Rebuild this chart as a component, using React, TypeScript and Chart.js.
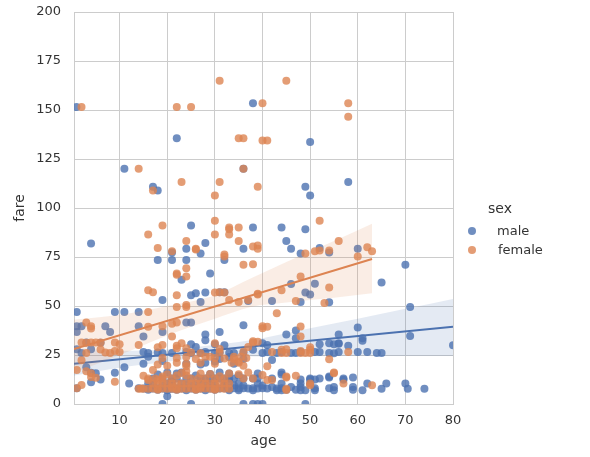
import React, { useEffect, useRef } from "react";
import { Chart, registerables } from "chart.js";

Chart.register(...registerables);

// ---- axes ----
const xTicks = [10, 20, 30, 40, 50, 60, 70, 80];
const yTicks = [0, 25, 50, 75, 100, 125, 150, 175, 200];
const ageMin = 0.42;
const ageMax = 80;
const fareMin = 0;
const fareMax = 200;

// ---- series labels ----
const seriesNames = ["male", "female"];
const legendTitle = "sex";
const xLabel = "age";
const yLabel = "fare";

// ---- male points [age, fare] ----
const maleHigh: [number, number][] = [
  [0.92, 151.55], [38, 153.46], [22, 135.63], [11, 120], [36, 120], [17, 110.88], [18, 108.9],
  [50, 133.65], [49, 110.88], [50, 106.43], [58, 113.28], [49, 89.1], [25, 91.08], [38, 90],
  [44, 90], [4, 81.86], [18, 73.5], [21, 73.5], [21, 77.29], [24, 79.2], [24, 73.5], [23, 63.36],
  [27, 76.73], [28, 82.17], [32, 73.5], [36, 79.2], [45, 83.16], [46, 79.2], [48, 76.73],
  [52, 79.65], [54, 77.29], [60, 79.2], [70, 71], [65, 61.98], [46, 61.18], [51, 61.38],
  [49, 56.93], [50, 55.9], [42, 52.55], [48, 52], [54, 51.86], [71, 49.5], [27, 52], [29, 66.6],
  [19, 53.1], [25, 55.44], [26, 56.5], [28, 56.93], [31, 57], [32, 57], [37, 52.55],
];
const maleMid: [number, number][] = [
  [25, 41.58], [31, 36.75], [28, 35.5], [28, 32.5], [36, 40.13], [15, 34.38], [19, 36.75],
  [15, 26.55], [16, 24.15], [9, 46.9], [11, 46.9], [14, 46.9], [1, 46.9], [1, 39.69], [1, 36.75],
  [2, 39.69], [7, 39.69], [8, 36.75], [14, 39.69], [3, 31.39], [6, 31.27], [4, 27.9], [1, 27.9],
  [2, 26.0], [3, 18.75], [4, 15.9], [5, 15.74], [4, 11.13], [6, 12.48], [9, 15.9], [11, 18.75],
  [12, 10.5], [1, 8.05], [15, 20.5], [19, 22.0], [20, 16.1], [24, 41.58], [45, 35.5], [47, 37.5],
  [47, 33.5], [56, 35.5], [56, 30.7], [60, 39.0], [61, 33.5], [61, 32.3], [71, 34.65], [80, 30],
  [52, 30.5], [55, 30.5], [58, 29.7], [25, 30.5], [26, 29.1], [30, 30.5], [32, 30.0], [38, 27.7],
  [40, 31], [41, 30.07], [54, 31], [56, 31],
];
const maleRow26: [number, number][] = [
  [16, 26], [18, 26.25], [19, 26], [21, 26], [24, 26.55], [25, 26], [27, 26], [28, 26.55],
  [30, 26], [31, 26.25], [33, 26], [34, 26], [36, 26.29], [40, 26], [41, 26.55], [43, 26],
  [46, 26], [47, 26], [52, 26.55], [54, 26], [56, 26.55], [60, 26.55], [62, 26.55], [64, 26],
  [65, 26], [44, 26.55], [48, 26.55], [51, 26.55], [55, 25.9],
];
const maleOlderLow: [number, number][] = [
  [44, 16.1], [44, 15.0], [54, 14], [57, 12.35], [59, 13.5], [48, 12.5], [50, 12.5], [51, 12.5],
  [52, 13], [50, 13], [54, 13.5], [57, 13], [62, 10.5], [66, 10.5], [70, 10.5], [50, 10.5],
  [48, 10.5], [44, 10.5], [44, 7.05], [45, 7.25], [47, 7.25], [48, 7.05], [49, 7.05], [51, 7.05],
  [55, 7.0], [59, 7.25], [61, 6.97], [65, 7.75], [70.5, 7.75], [74, 7.78], [40, 8.05],
  [42, 8.66], [44, 8.05], [46, 8.66], [48, 8.66], [51, 8.05], [54, 8.05], [55, 8.66], [59, 8.66],
];
const maleYoungLow: [number, number][] = [
  [17, 13], [19, 13], [21, 13], [22, 13], [24, 13], [25, 13], [27, 13], [28, 13], [29, 13],
  [30, 13], [31, 13], [32, 13], [33, 13], [34, 13], [36, 13], [38, 13], [39, 13], [42, 13],
  [18, 15], [22, 15.5], [26, 14.5], [29, 15.25], [33, 15.5], [35, 14.4], [39, 15.5], [23, 16.1],
  [31, 16.1], [16, 10.5], [20, 10.5], [23, 10.5], [26, 10.5], [29, 10.5], [32, 10.5], [35, 10.5],
  [39, 10.5], [21, 11.5], [27, 11.1], [33, 11.5], [14, 8.05], [15, 7.9], [16, 8.05], [17, 7.9],
  [18, 8.05], [19, 7.9], [20, 8.05], [21, 7.8], [22, 8.05], [23, 7.9], [24, 8.05], [25, 7.9],
  [26, 8.05], [27, 7.9], [28, 8.05], [29, 7.9], [30, 8.05], [31, 7.9], [32, 8.05], [33, 7.9],
  [34, 8.05], [35, 7.9], [36, 8.05], [37, 7.9], [38, 8.05], [39, 7.9], [41, 7.9], [43, 7.9],
  [16, 7.23], [18, 7.23], [20, 7.05], [22, 7.23], [24, 7.05], [26, 7.23], [28, 7.05], [30, 7.23],
  [33, 7.05], [35, 7.05], [38, 7.05], [43, 7.05], [17, 9.5], [19, 9.22], [21, 9.5], [24, 9.5],
  [25, 9.22], [28, 9.5], [30, 9.5], [32, 9.35], [34, 9.5], [36, 9.5], [40, 9.5],
  [19, 0], [25, 0], [36, 0], [38, 0], [39, 0], [40, 0], [49, 0], [20, 4],
  [28, 21], [30, 21.7], [24, 20.5], [27, 20.2], [34, 20.5], [36, 23], [42, 22.5], [31, 23], [33, 24],
];

// ---- female points [age, fare] ----
const femaleHigh: [number, number][] = [
  [2, 151.55], [22, 151.55], [25, 151.55], [31, 164.87], [45, 164.87], [40, 153.46], [58, 153.46],
  [58, 146.52], [35, 135.63], [36, 135.63], [40, 134.5], [41, 134.5], [14, 120], [36, 120],
  [17, 108.9], [23, 113.28], [31, 113.28], [30, 106.43], [39, 110.88], [19, 91.08], [30, 93.5],
  [33, 90], [35, 90], [52, 93.5], [33, 89.1], [16, 86.5], [18, 79.65], [21, 77.96], [24, 83.16],
  [26, 78.85], [26, 79.2], [30, 86.5], [32, 76.29], [33, 86.5], [35, 83.16], [36, 71], [38, 71.28],
  [39, 80.93], [39, 79.2], [38, 80.3], [22, 66.6], [24, 69.3], [24, 65], [22, 66], [49, 76.73],
  [51, 77.96], [52, 78.27], [54, 78.27], [56, 83.16], [60, 75.25], [62, 80], [63, 77.96],
  [48, 65], [44, 57.98], [54, 59.4], [47, 52.55], [53, 51.48], [39, 55.9], [43, 46.3], [32, 75.25],
  [16, 57.98], [17, 57], [22, 55.44], [30, 56.93], [32, 56.93], [22, 49.5], [24, 49.5],
  [24, 50.5], [33, 53.1], [35, 52], [37, 53.1], [39, 56.2], [31, 57],
];
const femaleMid: [number, number][] = [
  [3, 41.58], [4, 39.69], [4, 38.5], [16, 39.4], [19, 39.69], [16, 46.9], [22, 41.58], [21, 41],
  [2, 31.39], [3, 31.27], [4, 31.39], [5, 31.39], [6, 31.39], [9, 31.39], [10, 30.5], [6, 27.75],
  [7, 26.25], [8, 26], [9, 27], [10, 26.5], [14, 30.07], [3, 26], [2, 22.36], [1, 17.3], [3, 16.7],
  [4, 15.74], [4, 13.78], [5, 13.4], [2, 9.7], [1, 8.05], [9, 11.4], [15, 14.45], [16, 12.3],
  [17, 17.4], [18, 12.3], [19, 14], [18, 28.9], [19, 30.07], [21, 34.38], [22, 28.4], [24, 28.4],
  [22, 29.7], [23, 31], [30, 31], [31, 28], [38, 31.39], [39, 31.7], [36, 26.7], [37, 29.1],
  [42, 26.55], [44, 27.72], [45, 27.9], [48, 27], [50, 27.72], [50, 28.9], [44, 26], [45, 26],
  [48, 26], [49, 26], [50, 26], [58, 26.55], [54, 22.8], [41, 19.26], [40, 14.8], [41, 12.3],
  [42, 12.3], [45, 13.5], [45, 14], [47, 14.45], [55, 15.75], [55, 16.1], [57, 10.5], [50, 10.5],
  [50, 9.6], [63, 9.6], [45, 7.75], [45, 7.1], [40, 39.69], [40, 38.6], [48, 39.6], [48, 34.38],
  [41, 39.4], [38, 32], [35, 21.6], [34, 24.15],
];
const femaleLow: [number, number][] = [
  [14, 7.75], [14.5, 7.85], [15, 7.75], [16, 7.75], [17, 7.85], [18, 7.75], [19, 7.85], [20, 7.75],
  [21, 7.75], [22, 7.85], [23, 7.75], [24, 7.75], [25, 7.85], [26, 7.75], [27, 7.75], [28, 7.85],
  [29, 7.75], [30, 7.75], [31, 7.85], [32, 7.75], [33, 7.75], [18, 7.23], [22, 7.23], [26, 7.23],
  [30, 7.23], [21, 8.5], [27, 8.5], [17, 10.5], [18, 10.5], [19, 10.5], [20, 10.46], [21, 10.5],
  [22, 10.5], [23, 10.5], [24, 10.5], [25, 10.5], [26, 10.5], [27, 10.5], [28, 10.5], [29, 10.5],
  [30, 10.5], [31, 10.5], [32, 10.5], [33, 10.5], [16, 13], [17.5, 13], [19, 13], [21, 13],
  [22, 14.5], [24, 14.5], [24, 16.7], [25, 13], [26.5, 13], [28, 13], [29, 15.25], [30, 13],
  [32, 13], [33, 15.5], [36, 13], [38, 13], [27, 15.5], [23, 15.85], [20, 15.2], [31, 14.1],
  [35, 15.2], [37, 16.1], [18, 20.2], [20, 19.5], [22, 21], [24, 19.3], [24, 20.5], [27, 21],
  [30, 20.5], [33.5, 21], [35, 21], [36, 19.5], [19, 23.45], [22, 23.5], [24, 24], [28, 24.15],
  [29, 24.15], [30, 23.5], [32, 23.25], [34, 23], [35.5, 24.15], [36.6, 23.5], [26, 23],
  [25, 26.3], [27, 25.9], [31, 26.25],
];

// ---- regression fits and confidence bands ----
const maleFitAge = [0.42, 80];
const maleFitFare = [20.5, 39.4];
const femaleFitAge = [0.42, 63];
const femaleFitFare = [28, 74];

const maleBandAge = [0.42, 10, 20, 30, 40, 50, 60, 70, 80];
const maleBandLow = [14.5, 18.5, 21.5, 24.3, 24.2, 24.4, 24.5, 24.5, 24.5];
const maleBandHigh = [27.5, 27.2, 27.8, 30.2, 33.6, 38.6, 43.5, 48.6, 53.6];

const femaleBandAge = [0.42, 10, 20, 30, 37.5, 45, 55, 63];
const femaleBandLow = [16, 25, 35, 43.5, 49.5, 51.8, 54.2, 56.5];
const femaleBandHigh = [43, 45.5, 50, 55.5, 64, 72.4, 83.2, 92];

const BLUE = "76,114,176";
const ORANGE = "221,132,82";
const FONT = "'DejaVu Sans', sans-serif";
const TEXT = "#333333";
const GRID = "#cccccc";

const toXY = (arr: [number, number][][]) => arr.flat().map(([x, y]) => ({ x, y }));
const zipXY = (xs: number[], ys: number[]) => xs.map((x, i) => ({ x, y: ys[i] }));

export default function App() {
  const ref = useRef<HTMLCanvasElement | null>(null);

  useEffect(() => {
    if (!ref.current) return;
    const pointStyle = (rgb: string) => ({
      backgroundColor: `rgba(${rgb},0.8)`,
      borderWidth: 0,
      pointRadius: 4,
      pointBorderWidth: 0,
      pointHoverRadius: 4,
    });
    const chart = new Chart(ref.current, {
      type: "scatter",
      data: {
        datasets: [
          {
            label: seriesNames[0],
            data: toXY([maleHigh, maleMid, maleRow26, maleOlderLow, maleYoungLow]),
            ...pointStyle(BLUE),
            order: 7,
          } as any,
          {
            label: "male band low",
            type: "line",
            data: zipXY(maleBandAge, maleBandLow),
            borderWidth: 0,
            pointRadius: 0,
            fill: false,
            cubicInterpolationMode: "monotone",
            order: 6,
          } as any,
          {
            label: "male band high",
            type: "line",
            data: zipXY(maleBandAge, maleBandHigh),
            borderWidth: 0,
            borderColor: "rgba(0,0,0,0)",
            pointRadius: 0,
            fill: "-1",
            backgroundColor: `rgba(${BLUE},0.15)`,
            cubicInterpolationMode: "monotone",
            order: 6,
          } as any,
          {
            label: "male fit",
            type: "line",
            data: zipXY(maleFitAge, maleFitFare),
            borderColor: `rgb(${BLUE})`,
            borderWidth: 2,
            pointRadius: 0,
            fill: false,
            order: 5,
          } as any,
          {
            label: seriesNames[1],
            data: toXY([femaleHigh, femaleMid, femaleLow]),
            ...pointStyle(ORANGE),
            order: 4,
          } as any,
          {
            label: "female band low",
            type: "line",
            data: zipXY(femaleBandAge, femaleBandLow),
            borderWidth: 0,
            pointRadius: 0,
            fill: false,
            cubicInterpolationMode: "monotone",
            order: 3,
          } as any,
          {
            label: "female band high",
            type: "line",
            data: zipXY(femaleBandAge, femaleBandHigh),
            borderWidth: 0,
            borderColor: "rgba(0,0,0,0)",
            pointRadius: 0,
            fill: "-1",
            backgroundColor: `rgba(${ORANGE},0.15)`,
            cubicInterpolationMode: "monotone",
            order: 3,
          } as any,
          {
            label: "female fit",
            type: "line",
            data: zipXY(femaleFitAge, femaleFitFare),
            borderColor: `rgb(${ORANGE})`,
            borderWidth: 2,
            pointRadius: 0,
            fill: false,
            order: 1,
          } as any,
        ],
      },
      options: {
        animation: false,
        responsive: false,
        events: [],
        layout: { padding: { top: 0, right: 137, bottom: 0, left: 0 } },
        plugins: {
          legend: { display: false },
          tooltip: { enabled: false },
        },
        scales: {
          x: {
            type: "linear",
            min: ageMin,
            max: ageMax,
            afterBuildTicks: (axis: any) => {
              axis.ticks = xTicks.map((v) => ({ value: v }));
            },
            afterFit: (s: any) => {
              s.height = 53;
            },
            grid: { color: GRID, lineWidth: 1, drawTicks: false },
            border: { color: GRID, width: 1 },
            ticks: { padding: 9, color: TEXT, font: { family: FONT, size: 13 } },
            title: {
              display: true,
              text: xLabel,
              color: TEXT,
              font: { family: FONT, size: 14 },
              padding: { top: 0, bottom: 7 },
            },
          },
          y: {
            type: "linear",
            min: fareMin,
            max: fareMax,
            afterBuildTicks: (axis: any) => {
              axis.ticks = yTicks.map((v) => ({ value: v }));
            },
            afterFit: (s: any) => {
              s.width = 74;
              s.paddingTop = 12;
              s.paddingBottom = 0;
            },
            grid: { color: GRID, lineWidth: 1, drawTicks: false },
            border: { color: GRID, width: 1 },
            ticks: { padding: 13, color: TEXT, font: { family: FONT, size: 13 } },
            title: {
              display: true,
              text: yLabel,
              color: TEXT,
              font: { family: FONT, size: 14 },
              padding: { top: 11.5, bottom: 0 },
            },
          },
        },
      } as any,
    });
    return () => chart.destroy();
  }, []);

  const legendText: React.CSSProperties = {
    position: "absolute",
    fontFamily: FONT,
    fontSize: 13,
    color: TEXT,
    lineHeight: "16px",
    whiteSpace: "nowrap",
  };
  const marker = (rgb: string, top: number): React.CSSProperties => ({
    position: "absolute",
    left: 468,
    top: top - 4,
    width: 8,
    height: 8,
    borderRadius: "50%",
    background: `rgba(${rgb},0.8)`,
  });

  return (
    <div style={{ position: "absolute", left: 0, top: 0, width: 590, height: 457, background: "#fff" }}>
      <canvas ref={ref} width={590} height={457} style={{ display: "block" }} />
      <div style={{ ...legendText, fontSize: 14, left: 488, top: 200 }}>{legendTitle}</div>
      <div style={marker(BLUE, 231)} />
      <div style={{ ...legendText, left: 497, top: 223 }}>{seriesNames[0]}</div>
      <div style={marker(ORANGE, 250)} />
      <div style={{ ...legendText, left: 498, top: 242 }}>{seriesNames[1]}</div>
    </div>
  );
}
